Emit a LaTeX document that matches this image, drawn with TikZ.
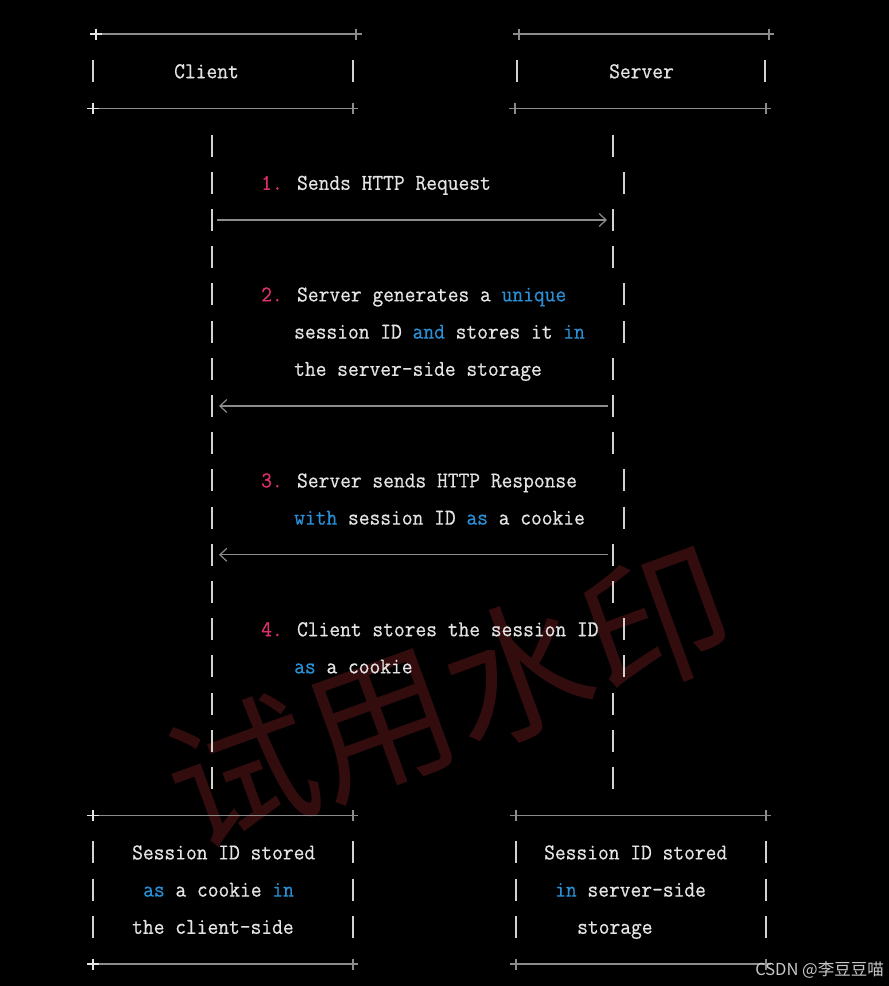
\documentclass[tikz,border=0pt]{standalone}
\usepackage{fontspec}
\usetikzlibrary{arrows.meta}
\newfontfamily\monofam[FakeStretch=0.925,FakeBold=0.6]{Latin Modern Mono}
\newfontfamily\cjkfam{Noto Sans CJK SC}
\definecolor{bgc}{HTML}{000000}
\definecolor{fgc}{HTML}{E4E4E4}
\definecolor{numc}{HTML}{D9306B}
\definecolor{kwc}{HTML}{2A8FD4}
\definecolor{rulec}{HTML}{8C8C8C}
\definecolor{barc}{HTML}{D2D2D2}
\definecolor{wmc}{HTML}{330C0E}
\definecolor{csdnc}{HTML}{C8C8C8}
\newcommand\pk[1]{\textcolor{numc}{#1}}
\newcommand\kw[1]{\textcolor{kwc}{#1}}
\newcommand\hb[6]{%
  \draw[rulel] (#2,#1) -- (#3,#1);
  \draw[#6] (#4,{#1-5.5}) -- (#4,{#1+5.5}) ({#4-6},#1) -- ({#4+6},#1);
  \draw[rulel] (#5,{#1-5.5}) -- (#5,{#1+5.5});}
\newcommand\vb[2]{\draw[barl] (#1,{#2-11}) -- (#1,{#2+11});}
\newcommand\tx[4]{\node[txt] (#1) at (#2,{#3+7}) {#4};}
\begin{document}
\begin{tikzpicture}[x=1pt,y=-1pt,
  txt/.style={anchor=base west, inner sep=0pt, text=fgc, font=\monofam\fontsize{22.6}{22.6}\selectfont},
  rulel/.style={draw=rulec, line width=1.3pt},
  plusw/.style={draw=fgc, line width=1.3pt},
  barl/.style={draw=barc, line width=1.2pt},
  arr/.style={draw=rulec, line width=1.3pt, -{Straight Barb[length=7pt,width=13pt,line width=1.2pt]}},
]
\fill[bgc] (0,0) rectangle (889,986);
\useasboundingbox (0,0) rectangle (889,986);
% watermark
\node[rotate=20, text=wmc, font=\cjkfam\fontsize{147}{147}\selectfont, inner sep=0pt] (wmk) at (449,697) {试用水印};
% top boxes
\hb{34}{90}{362}{96}{356}{plusw}
\hb{108.4}{88}{358}{93}{353}{plusw}
\hb{34}{514}{774}{519}{769}{rulel}
\hb{108.4}{512}{771}{515}{766}{rulel}
\vb{93}{71.2}\vb{353}{71.2}\vb{517}{71.2}\vb{765}{71.2}
\tx{client}{174}{71.2}{Client}
\tx{server}{609}{71.2}{Server}
% lifelines client
\foreach \r in {145.6,182.8,220,257.2,294.4,331.6,368.8,406,443.2,480.4,517.6,554.8,592,629.2,666.4,703.6,740.8,778}{\vb{212}{\r}}
% lifelines server
\foreach \r in {145.6,220,257.2,368.8,406,443.2,554.8,592,703.6,740.8,778}{\vb{613}{\r}}
\foreach \r in {182.8,294.4,331.6,480.4,517.6,629.2,666.4}{\vb{624}{\r}}
% messages
\tx{m1}{261}{182.8}{\pk{1.} Sends HTTP Request}
\coordinate (a1s) at (217,220);
\coordinate (a1e) at (607,220);
\draw[arr] (a1s) -- (a1e);
\tx{m2a}{261}{294.4}{\pk{2.} Server generates a \kw{unique}}
\tx{m2b}{294}{331.6}{session ID \kw{and} stores it \kw{in}}
\tx{m2c}{294}{368.8}{the server-side storage}
\coordinate (a2s) at (608,406);
\coordinate (a2e) at (219,406);
\draw[arr] (a2s) -- (a2e);
\tx{m3a}{261}{480.4}{\pk{3.} Server sends HTTP Response}
\tx{m3b}{294}{517.6}{\kw{with} session ID \kw{as} a cookie}
\coordinate (a3s) at (608,554.8);
\coordinate (a3e) at (219,554.8);
\draw[arr] (a3s) -- (a3e);
\tx{m4a}{261}{629.2}{\pk{4.} Client stores the session ID}
\tx{m4b}{294}{666.4}{\kw{as} a cookie}
% bottom boxes
\hb{815.2}{87}{358}{93}{353}{plusw}
\hb{964}{87}{358}{93}{353}{plusw}
\hb{815.2}{512}{771}{516}{766}{rulel}
\hb{964}{512}{771}{516}{766}{rulel}
\foreach \r in {852.4,889.6,926.8}{\vb{93}{\r}\vb{353}{\r}\vb{516}{\r}\vb{766}{\r}}
\tx{c1}{132}{852.4}{Session ID stored}
\tx{c2}{143}{889.6}{\kw{as} a cookie \kw{in}}
\tx{c3}{132}{926.8}{the client-side}
\tx{s1}{544}{852.4}{Session ID stored}
\tx{s2}{555}{889.6}{\kw{in} server-side}
\tx{s3}{577}{926.8}{storage}
\node[anchor=east, text=csdnc, font=\cjkfam\fontsize{16.5}{16.5}\selectfont, inner sep=0pt] (csdn) at (884,970) {CSDN @李豆豆喵};
\end{tikzpicture}
\end{document}
